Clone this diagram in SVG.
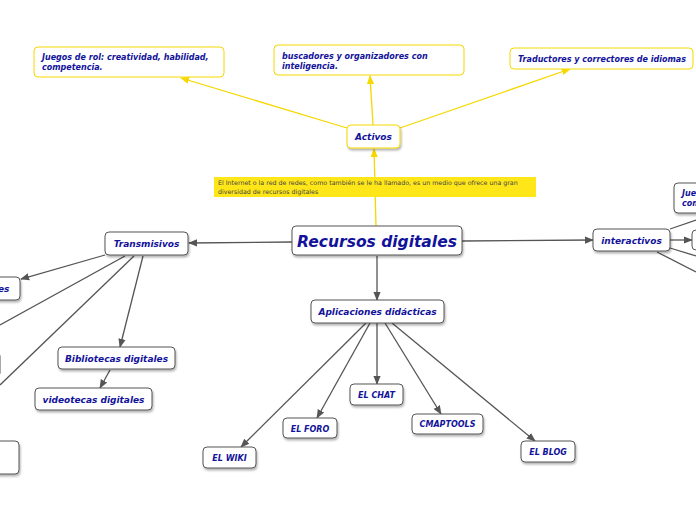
<svg xmlns="http://www.w3.org/2000/svg" width="696" height="520" viewBox="0 0 696 520">
<style>
.n rect{fill:#fff;stroke:#555;stroke-width:1;}
.y rect{fill:#fff;stroke:#f5d800;stroke-width:1;}
text{font-family:"DejaVu Sans",Verdana,sans-serif;font-weight:bold;font-style:italic;fill:#12129a;font-size:9px;}
.c{text-anchor:middle;}
.g line{stroke:#555;stroke-width:1.3;}
.yl line{stroke:#f5d800;stroke-width:1.3;}
</style>
<defs>
<filter id="sh" x="-10%" y="-10%" width="130%" height="150%"><feDropShadow dx="1" dy="2" stdDeviation="1" flood-opacity="0.3"/></filter>
<marker id="a" viewBox="0 0 10 10" refX="9" refY="5" markerWidth="7" markerHeight="7" orient="auto"><path d="M0,1 L10,5 L0,9z" fill="#555"/></marker>
<marker id="ay" viewBox="0 0 10 10" refX="9" refY="5" markerWidth="7" markerHeight="7" orient="auto"><path d="M0,1 L10,5 L0,9z" fill="#f5d800"/></marker>
</defs>
<g id="connectors">
<g class="yl">
<line x1="376" y1="226" x2="374" y2="149" marker-end="url(#ay)"/>
<line x1="347" y1="128" x2="181" y2="78" marker-end="url(#ay)"/>
<line x1="373" y1="125" x2="370" y2="76" marker-end="url(#ay)"/>
<line x1="400" y1="128" x2="570" y2="69" marker-end="url(#ay)"/>
</g>
<g class="g">
<line x1="292" y1="242" x2="189" y2="243" marker-end="url(#a)"/>
<line x1="462" y1="241" x2="593" y2="240" marker-end="url(#a)"/>
<line x1="377" y1="256" x2="377" y2="300" marker-end="url(#a)"/>
<line x1="105" y1="255" x2="21" y2="279" marker-end="url(#a)"/>
<line x1="125" y1="256" x2="0" y2="325"/>
<line x1="134" y1="256" x2="0" y2="385"/>
<line x1="143" y1="256" x2="120" y2="347" marker-end="url(#a)"/>
<line x1="110" y1="370" x2="100" y2="388" marker-end="url(#a)"/>
<line x1="366" y1="323" x2="241" y2="447" marker-end="url(#a)"/>
<line x1="370" y1="323" x2="317" y2="418" marker-end="url(#a)"/>
<line x1="377" y1="323" x2="377" y2="384" marker-end="url(#a)"/>
<line x1="385" y1="323" x2="441" y2="414" marker-end="url(#a)"/>
<line x1="392" y1="323" x2="535" y2="441" marker-end="url(#a)"/>
<line x1="670" y1="229" x2="696" y2="220"/>
<line x1="670" y1="240" x2="692" y2="240" marker-end="url(#a)"/>
<line x1="670" y1="248" x2="696" y2="256"/>
<line x1="657" y1="252" x2="696" y2="272"/>
</g>
</g>
<g id="note">
<rect x="214" y="177" width="322" height="20" fill="#ffe619"/>
<text x="218" y="185" style="font-weight:normal;font-style:normal;font-size:6.3px;fill:#444">El Internet o la red de redes, como también se le ha llamado, es un medio que ofrece una gran</text>
<text x="218" y="193.5" style="font-weight:normal;font-style:normal;font-size:6.3px;fill:#444">diversidad de recursos digitales</text>
</g>
<g id="recursos" class="n"><rect x="292" y="226" width="170" height="29" rx="4" filter="url(#sh)"/><text class="c" x="377" y="247" style="font-size:15.5px">Recursos digitales</text></g>
<g id="activos" class="y"><rect x="347" y="125" width="53" height="23" rx="4" filter="url(#sh)"/><text class="c" x="373.5" y="140">Activos</text></g>
<g id="juegos" class="y"><rect x="34" y="47" width="190" height="30" rx="4"/><text x="42" y="60" style="font-size:8px">Juegos de rol: creatividad, habilidad,</text><text x="42" y="70" style="font-size:8px">competencia.</text></g>
<g id="buscadores" class="y"><rect x="274" y="45" width="190" height="30" rx="4"/><text x="282" y="59" style="font-size:8px">buscadores y organizadores con</text><text x="282" y="69" style="font-size:8px">inteligencia.</text></g>
<g id="traductores" class="y"><rect x="510" y="48" width="183" height="21" rx="4"/><text x="518" y="62" style="font-size:8px">Traductores y correctores de idiomas</text></g>
<g id="transmisivos" class="n"><rect x="105" y="232" width="83" height="23" rx="4" filter="url(#sh)"/><text class="c" x="146.5" y="247">Transmisivos</text></g>
<g id="interactivos" class="n"><rect x="593" y="229" width="77" height="22" rx="4" filter="url(#sh)"/><text class="c" x="631.5" y="244">interactivos</text></g>
<g id="jue" class="n"><rect x="674" y="183" width="40" height="30" rx="4" filter="url(#sh)"/><text x="682" y="196" style="font-size:8px">Jue</text><text x="682" y="206" style="font-size:8px">com</text></g>
<g id="r2" class="n"><rect x="692" y="230" width="20" height="20" rx="4"/></g>
<g id="aplicaciones" class="n"><rect x="311" y="300" width="133" height="23" rx="4" filter="url(#sh)"/><text class="c" x="377.5" y="315">Aplicaciones didácticas</text></g>
<g id="chat" class="n"><rect x="350" y="384" width="53" height="21" rx="4" filter="url(#sh)"/><text class="c" x="376.5" y="398" style="font-size:8px">EL CHAT</text></g>
<g id="cmap" class="n"><rect x="412" y="414" width="71" height="20" rx="4" filter="url(#sh)"/><text class="c" x="447.5" y="427" style="font-size:8px">CMAPTOOLS</text></g>
<g id="blog" class="n"><rect x="521" y="441" width="54" height="21" rx="4" filter="url(#sh)"/><text class="c" x="548" y="455" style="font-size:8px">EL BLOG</text></g>
<g id="foro" class="n"><rect x="283" y="418" width="54" height="20" rx="4" filter="url(#sh)"/><text class="c" x="310" y="432" style="font-size:8px">EL FORO</text></g>
<g id="wiki" class="n"><rect x="203" y="447" width="53" height="21" rx="4" filter="url(#sh)"/><text class="c" x="229.5" y="461" style="font-size:8px">EL WIKI</text></g>
<g id="bibliotecas" class="n"><rect x="58" y="347" width="117" height="22" rx="4" filter="url(#sh)"/><text class="c" x="116.5" y="362">Bibliotecas digitales</text></g>
<g id="videotecas" class="n"><rect x="35" y="388" width="117" height="22" rx="4" filter="url(#sh)"/><text class="c" x="93.5" y="403">videotecas digitales</text></g>
<g id="es" class="n"><rect x="-20" y="277" width="40" height="23" rx="4" filter="url(#sh)"/><text x="-2" y="292">es</text></g>
<g id="l2" class="n"><rect x="-20" y="352" width="20" height="25" rx="4"/></g>
<g id="l3" class="n"><rect x="-10" y="441" width="29" height="33" rx="4" filter="url(#sh)"/></g>
</svg>
